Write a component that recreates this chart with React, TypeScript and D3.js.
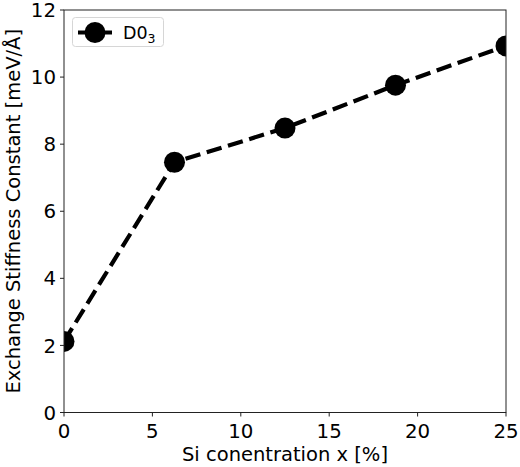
import React from "react";
import * as d3 from "d3";

const xValues = [0, 6.25, 12.5, 18.75, 25];
const yValues = [2.12, 7.46, 8.48, 9.76, 10.93];
const xTicks = [0, 5, 10, 15, 20, 25];
const yTicks = [0, 2, 4, 6, 8, 10, 12];
const seriesName = "D0";
const xLabel = "Si conentration x [%]";
const yLabel = "Exchange Stiffness Constant [meV/Å]";

const W = 520;
const H = 467;
const M = { left: 64, right: 506, top: 10, bottom: 412.5 };
const FONT = "DejaVu Sans, sans-serif";

export default function App() {
  const x = d3.scaleLinear().domain([0, 25]).range([M.left, M.right]);
  const y = d3.scaleLinear().domain([0, 12]).range([M.bottom, M.top]);
  const pts = xValues.map((v, i) => [v, yValues[i]] as [number, number]);
  const line = d3.line<[number, number]>().x((d) => x(d[0])).y((d) => y(d[1]));

  return (
    <svg
      width={W}
      height={H}
      style={{ position: "absolute", left: 0, top: 0, background: "#fff" }}
      fontFamily={FONT}
    >
      <defs>
        <clipPath id="plotClip">
          <rect x={M.left} y={M.top} width={M.right - M.left} height={M.bottom - M.top} />
        </clipPath>
      </defs>
      <g clipPath="url(#plotClip)">
        <path
          d={line(pts) || ""}
          fill="none"
          stroke="#000"
          strokeWidth={4.2}
          strokeDasharray="15.5 6.7"
        />
        {pts.map((d, i) => (
          <circle key={i} cx={x(d[0])} cy={y(d[1])} r={10.5} fill="#000" />
        ))}
      </g>
      <rect
        x={M.left}
        y={M.top}
        width={M.right - M.left}
        height={M.bottom - M.top}
        fill="none"
        stroke="#222"
        strokeWidth={1}
      />
      {xTicks.map((t) => (
        <g key={"x" + t}>
          <line x1={x(t)} x2={x(t)} y1={M.bottom} y2={M.bottom + 4} stroke="#222" strokeWidth={1} />
          <text x={x(t)} y={438} textAnchor="middle" fontSize={19.8} fill="#000">
            {t}
          </text>
        </g>
      ))}
      {yTicks.map((t) => (
        <g key={"y" + t}>
          <line x1={M.left - 4} x2={M.left} y1={y(t)} y2={y(t)} stroke="#222" strokeWidth={1} />
          <text x={56} y={y(t)} dy="0.36em" textAnchor="end" fontSize={19.8} fill="#000">
            {t}
          </text>
        </g>
      ))}
      <text x={(M.left + M.right) / 2} y={461} textAnchor="middle" fontSize={19.5} fill="#000">
        {xLabel}
      </text>
      <text
        transform={`translate(20,${(M.top + M.bottom) / 2}) rotate(-90)`}
        textAnchor="middle"
        fontSize={19.5}
        fill="#000"
      >
        {yLabel}
      </text>
      <g>
        <rect x={72.5} y={17.5} width={91} height={29} rx={3} fill="#fff" fillOpacity={0.8} stroke="#d6d6d6" strokeWidth={1} />
        <line x1={78} x2={112} y1={32.5} y2={32.5} stroke="#000" strokeWidth={4.2} />
        <circle cx={95} cy={32.5} r={10.5} fill="#000" />
        <text x={123} y={39} fontSize={17.5} fill="#000">
          {seriesName}
          <tspan fontSize={12.5} dy={3.5}>3</tspan>
        </text>
      </g>
    </svg>
  );
}
